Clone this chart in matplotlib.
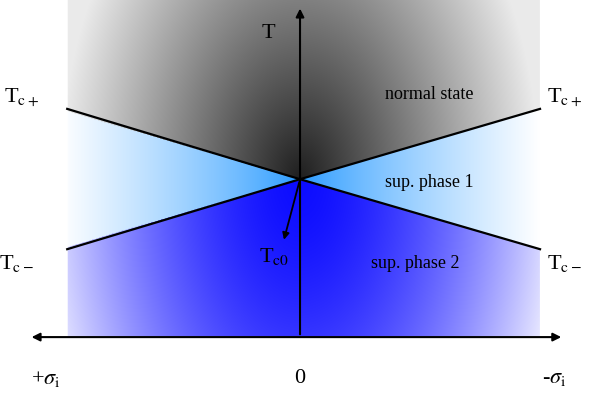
import numpy as np
import matplotlib
matplotlib.use("Agg")
import matplotlib.pyplot as plt
from matplotlib.patches import FancyArrowPatch

# data (normalized units)
Tc0 = 0.467
Tc_plus_edge = 0.675
Tc_minus_edge = 0.26
sigma_edges = [-0.97, 1.0]
region_labels = ["normal state", "sup. phase 1", "sup. phase 2"]

plt.rcParams['font.family'] = ['Liberation Serif', 'DejaVu Serif']
plt.rcParams['mathtext.fontset'] = 'stix'
fig = plt.figure(figsize=(5.89, 4.02), dpi=100)
ax = fig.add_axes([0, 0, 1, 1])
xmin, xmax = -1.25, 1.204
ymin, ymax = -0.189, 1.0
ax.set_xlim(xmin, xmax); ax.set_ylim(ymin, ymax); ax.axis('off')

nx, ny = 600, 420
xs = np.linspace(xmin, xmax, nx); ys = np.linspace(ymax, ymin, ny)
X, Y = np.meshgrid(xs, ys)
A = np.abs(X)
Tp = Tc0 + (Tc_plus_edge - Tc0) * A
Tm = Tc0 + (Tc_minus_edge - Tc0) * A
img = np.ones((ny, nx, 3))
inside = (X >= sigma_edges[0]) & (X <= sigma_edges[1]) & (Y >= 0) & (Y <= 1)
# gray
g = inside & (Y >= Tp)
d = np.clip(np.hypot(A * 1.0, (Y - Tc0) * 0.9), 0, 1)
val = 0.12 + 0.8 * d
for c in range(3):
    img[..., c][g] = val[g]
# light blue middle
m = inside & (Y < Tp) & (Y >= Tm)
t = np.clip(A, 0, 1) ** 0.8
cb = np.array([0.15, 0.6, 1.0]); cw = np.array([1, 1, 1])
for c in range(3):
    img[..., c][m] = (cb[c] * (1 - t) + cw[c] * t)[m]
# deep blue lower
l = inside & (Y < Tm)
t2 = np.clip(np.hypot(A, (Tc0 - Y) * 0.8) * 0.9, 0, 1) ** 1.6
cb2 = np.array([0.05, 0.05, 1.0]); cw2 = np.array([0.96, 0.96, 1.0])
for c in range(3):
    img[..., c][l] = (cb2[c] * (1 - t2) + cw2[c] * t2)[l]
ax.imshow(img, extent=[xmin, xmax, ymin, ymax], aspect='auto', interpolation='bilinear', zorder=0)

for e, top in [(sigma_edges[0], Tc_plus_edge), (sigma_edges[1], Tc_plus_edge),
               (sigma_edges[0], Tc_minus_edge), (sigma_edges[1], Tc_minus_edge)]:
    ax.plot([e, 0], [top, Tc0], color='black', lw=1.6)

ax.add_patch(FancyArrowPatch((-1.13, 0), (1.10, 0), arrowstyle='<|-|>', mutation_scale=12, lw=1.5, color='black'))
ax.add_patch(FancyArrowPatch((0, 0), (0, 0.98), arrowstyle='-|>', mutation_scale=12, lw=1.5, color='black'))
ax.add_patch(FancyArrowPatch((0, Tc0), (-0.07, 0.28), arrowstyle='-|>', mutation_scale=10, lw=1.3, color='black'))

fs = 16
ax.text(-0.13, 0.90, "T", fontsize=fs, ha='center', va='center')
ax.text(-1.16, 0.71, r"T$_{\rm c+}$", fontsize=fs, ha='center', va='center')
ax.text(1.10, 0.71, r"T$_{\rm c+}$", fontsize=fs, ha='center', va='center')
ax.text(-1.18, 0.22, r"T$_{\rm c-}$", fontsize=fs, ha='center', va='center')
ax.text(1.10, 0.22, r"T$_{\rm c-}$", fontsize=fs, ha='center', va='center')
ax.text(-0.11, 0.24, r"T$_{\rm c0}$", fontsize=fs, ha='center', va='center')
ax.text(0.54, 0.72, region_labels[0], fontsize=13, ha='center', va='center')
ax.text(0.54, 0.46, region_labels[1], fontsize=13, ha='center', va='center')
ax.text(0.48, 0.22, region_labels[2], fontsize=13, ha='center', va='center', color='black')
ax.text(-1.06, -0.12, r"+$\sigma_{\rm i}$", fontsize=fs, ha='center', va='center')
ax.text(0, -0.12, "0", fontsize=fs, ha='center', va='center')
ax.text(1.06, -0.12, r"-$\sigma_{\rm i}$", fontsize=fs, ha='center', va='center')
fig.savefig("out.png", dpi=100)
